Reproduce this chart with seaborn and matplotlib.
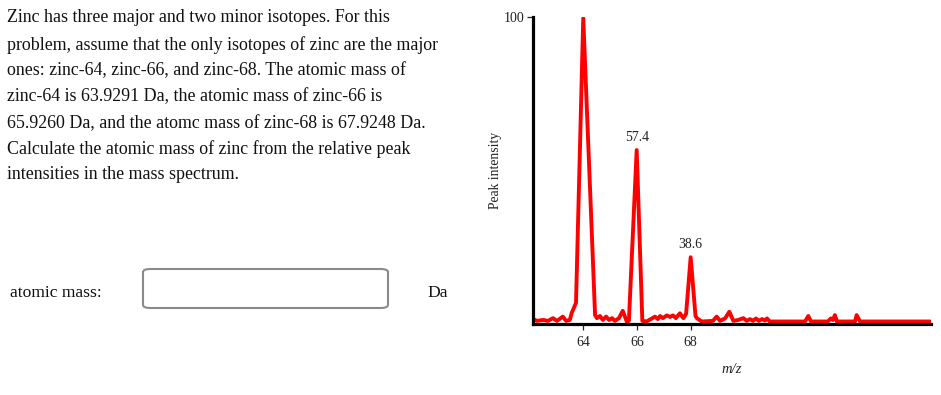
import matplotlib
matplotlib.use("Agg")
import matplotlib.pyplot as plt
from matplotlib.patches import FancyBboxPatch
import seaborn as sns
import pandas as pd

# ---- data ----
mz = [62.13, 62.28, 62.50, 62.69, 62.87, 63.02, 63.24, 63.36, 63.50, 63.57, 63.73,
      64.00, 64.44, 64.51, 64.62, 64.73, 64.85, 64.96, 65.07, 65.18, 65.33, 65.47,
      65.62, 65.70, 65.99, 66.20, 66.36, 66.52, 66.67, 66.78, 66.86, 66.97, 67.11,
      67.23, 67.34, 67.45, 67.60, 67.73, 67.83, 68.00, 68.18, 68.23, 68.41, 68.83,
      68.97, 69.09, 69.28, 69.44, 69.59, 69.77, 69.96, 70.09, 70.21, 70.32, 70.43,
      70.54, 70.66, 70.77, 70.84, 70.95, 72.26, 72.38, 72.48, 73.11, 73.22, 73.30,
      73.37, 73.45, 74.12, 74.18, 74.31, 76.92]
intensity = [0.8, 0.2, 0.5, 0.2, 1.1, 0.2, 1.6, 0.2, 0.5, 2.8, 6.1,
             99.6, 2.1, 1.1, 1.8, 0.5, 1.6, 0.5, 1.1, 0.2, 1.1, 3.5,
             0.0, 0.2, 56.3, 0.2, 0.0, 0.8, 1.6, 0.8, 1.8, 1.1, 2.0,
             1.5, 2.0, 1.1, 2.7, 1.1, 2.5, 21.1, 1.8, 1.1, 0.0, 0.2,
             1.6, 0.2, 1.0, 3.2, 0.2, 0.5, 1.1, 0.2, 0.8, 0.2, 1.0,
             0.2, 0.8, 0.3, 1.0, 0.0, 0.0, 1.8, 0.0, 0.0, 1.0, 0.5,
             2.1, 0.0, 0.0, 2.1, 0.0, 0.0]
x_ticks = [64, 66, 68]
y_ticks = [100]
peak_label_x = [66, 68]
peak_label_y = [56.3, 21.1]
peak_labels = ["57.4", "38.6"]

question_lines = [
    "Zinc has three major and two minor isotopes. For this",
    "problem, assume that the only isotopes of zinc are the major",
    "ones: zinc-64, zinc-66, and zinc-68. The atomic mass of",
    "zinc-64 is 63.9291 Da, the atomic mass of zinc-66 is",
    "65.9260 Da, and the atomc mass of zinc-68 is 67.9248 Da.",
    "Calculate the atomic mass of zinc from the relative peak",
    "intensities in the mass spectrum.",
]

sns.set_style("white")
plt.rcParams["font.family"] = ["Liberation Serif", "DejaVu Serif"]

W, H = 941, 395
fig = plt.figure(figsize=(W / 100, H / 100), dpi=100)

# ---- left side text ----
line_y = [18, 45, 71, 97, 124, 149, 175]
for txt, yy in zip(question_lines, line_y):
    fig.text(7 / W, 1 - yy / H, txt, fontsize=12.9, ha="left", va="center", color="#111111")

fig.text(10 / W, 1 - 293 / H, "atomic mass:", fontsize=12.6, ha="left", va="center", color="#111111")
fig.text(427 / W, 1 - 293 / H, "Da", fontsize=12.6, ha="left", va="center", color="#111111")
box = FancyBboxPatch((143 / W, 1 - 308 / H), (388 - 143) / W, (308 - 269) / H,
                     boxstyle="round,pad=0,rounding_size=0.008",
                     transform=fig.transFigure, facecolor="white",
                     edgecolor="#8a8a8a", linewidth=1.5)
fig.patches.append(box)

# ---- chart ----
left, right = 532.5 / W, 931 / W
bottom, top = 1 - 323.5 / H, 1 - 17 / H
ax = fig.add_axes([left, bottom, right - left, top - bottom])

df = pd.DataFrame({"mz": mz, "intensity": intensity})
sns.lineplot(data=df, x="mz", y="intensity", ax=ax, color="#ff0000",
             linewidth=2.8, estimator=None, sort=False)

ax.set_xlim(62.11, 76.95)
ax.set_ylim(-0.66, 100)
ax.set_xticks(x_ticks)
ax.set_yticks(y_ticks)
ax.set_xticklabels([str(t) for t in x_ticks])
ax.set_yticklabels([str(t) for t in y_ticks])
for s in ["top", "right"]:
    ax.spines[s].set_visible(False)
for s in ["left", "bottom"]:
    ax.spines[s].set_linewidth(2.3)
    ax.spines[s].set_color("black")
ax.tick_params(axis="x", direction="out", length=4, width=0.9, pad=5,
               labelsize=10, colors="#222222", bottom=True)
ax.tick_params(axis="y", direction="out", length=4, width=0.9, pad=2,
               labelsize=10, colors="#222222", left=True)
ax.grid(False)
ax.set_facecolor("none")

ax.set_xlabel("m/z", fontsize=10.5, style="italic", color="#222222", labelpad=10)
ax.set_ylabel("Peak intensity", fontsize=9.8, color="#222222", labelpad=1)

for xv, yv, lab in zip(peak_label_x, peak_label_y, peak_labels):
    ax.annotate(lab, xy=(xv, yv), xytext=(0, 9), textcoords="offset points",
                ha="center", va="center", fontsize=10, color="#222222")

fig.savefig("out.png", dpi=100)
